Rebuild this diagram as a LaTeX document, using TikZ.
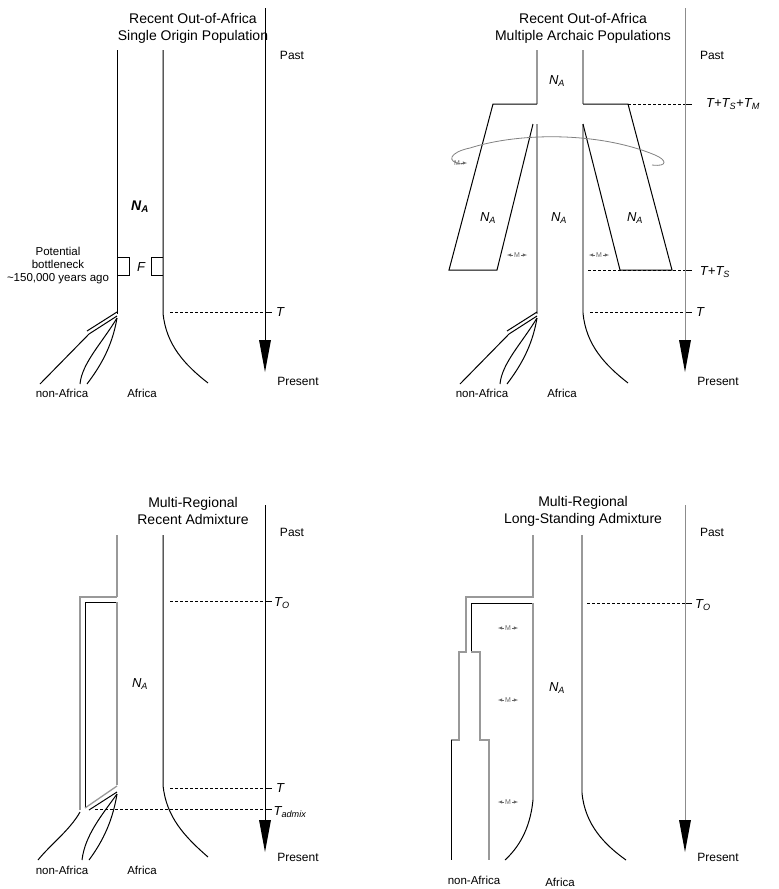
\documentclass[tikz,border=0pt]{standalone}
\usepackage{fontspec}
\setmainfont{Liberation Sans}
\newcommand{\sbs}[1]{\textsubscript{#1}}
\begin{document}
\begin{tikzpicture}[x=1pt,y=-1pt,
  ln/.style={line width=1pt,black},
  gl/.style={line width=1.3pt,black!40},
  dsh/.style={line width=0.8pt,dashed,dash pattern=on 3pt off 2pt},
  ttl/.style={font=\normalfont\fontsize{14}{17}\selectfont,align=center},
  sm/.style={font=\normalfont\fontsize{11.5}{13}\selectfont,align=center},
  lb/.style={font=\normalfont\fontsize{13}{15}\selectfont\itshape},
  mm/.style={font=\normalfont\fontsize{7}{8}\selectfont,text=black!60,inner sep=1pt},
  ma/.style={black!60,-latex,line width=0.5pt}]
\useasboundingbox (0,0) rectangle (779,889);
\newcommand{\taxis}[4]{% x, ytop, ybot, color
  \draw[line width=0.9pt,#4] (#1,#2) -- (#1,#3);
  \fill[black] (#1-6,#3) -- (#1+6,#3) -- (#1,#3+32) -- cycle;}
\newcommand{\lens}[3]{% xtrunk ytop color
  \draw[#3] (#1,#2) .. controls (#1-15,#2+25) and (#1-35,#2+45) .. (#1-37,#2+66);
  \draw[#3] (#1,#2) .. controls (#1-5,#2+30) and (#1-18,#2+50) .. (#1-30,#2+66);
  \draw[#3] (#1,#2-6) -- (#1-30,#2+13);
  \draw[#3] (#1,#2-2) -- (#1-28,#2+16) -- (#1-77,#2+66);}
\newcommand{\mig}[3]{% x y name
  \node[mm] (#3) at (#1,#2) {M};
  \draw[ma] (#3.west) -- ++(-6,0); \draw[ma] (#3.east) -- ++(6,0);}
% ---------- Panel 1
\node[ttl] (t1) at (193,28) {Recent Out-of-Africa\\Single Origin Population};
\draw[ln] (117,50) -- (117,314);
\draw[ln] (163,50) -- (163,313) .. controls (166,345) and (185,365) .. (208,383);
\lens{117}{318}{ln}
\draw[ln] (117,257) -- (129,257) -- (129,275) -- (117,275);
\draw[ln] (163,257) -- (151,257) -- (151,275) -- (163,275);
\node[lb] (f1) at (141,267) {F};
\node[font=\normalfont\fontsize{14}{16}\selectfont\bfseries\itshape] (na1) at (140,207) {N\sbs{A}};
\node[sm] (bn) at (58,266) {Potential\\bottleneck\\\textasciitilde150,000 years ago};
\taxis{265}{8}{340}{black}
\node[sm,font=\normalfont\fontsize{12}{14}\selectfont] (p1) at (292,55) {Past};
\node[sm,font=\normalfont\fontsize{12}{14}\selectfont] (pr1) at (298,381) {Present};
\draw[dsh] (170,312) -- (265,312); \draw (265,312) -- (272,312);
\node[lb] (T1) at (280,312) {T};
\node[sm] (na1l) at (62,393) {non-Africa};
\node[sm] (a1l) at (142,393) {Africa};
% ---------- Panel 2
\node[ttl] (t2) at (583,28) {Recent Out-of-Africa\\Multiple Archaic Populations};
\draw[gl] (537,50) -- (537,104); \draw[gl] (583,50) -- (583,104);
\draw[gl] (537,124) -- (537,314);
\draw[gl] (583,124) -- (583,313);
\draw[ln] (583,313) .. controls (586,345) and (605,365) .. (628,383);
\lens{537}{318}{ln}
\draw[ln] (537,104) -- (493,104) -- (449,270) -- (497,270) -- (533,124);
\draw[ln] (583,104) -- (628,104) -- (672,270) -- (620,270) -- (583,124);
\draw[dsh] (628,104) -- (685,104); \draw (685,104) -- (692,104);
\draw[dsh] (588,270) -- (685,270); \draw (685,270) -- (692,270);
\draw[dsh] (590,312) -- (685,312); \draw (685,312) -- (692,312);
\draw[black!50,line width=0.8pt] (462,164) .. controls (445,162) and (450,152) .. (470,148) .. controls (520,132) and (600,132) .. (655,155) .. controls (667,160) and (668,167) .. (652,165);
\node[mm] (m0) at (457,163) {M};
\draw[ma] (m0.east) -- ++(6,0);
\node[lb] (na2t) at (557,81) {N\sbs{A}};
\node[lb] (na2a) at (488,218) {N\sbs{A}};
\node[lb] (na2b) at (559,218) {N\sbs{A}};
\node[lb] (na2c) at (635,218) {N\sbs{A}};
\mig{517}{255}{m1}
\mig{599}{255}{m2}
\taxis{685}{8}{340}{black!45}
\node[lb] (T2a) at (733,104) {T+T\sbs{S}+T\sbs{M}};
\node[lb] (T2b) at (715,272) {T+T\sbs{S}};
\node[lb] (T2c) at (700,312) {T};
\node[sm,font=\normalfont\fontsize{12}{14}\selectfont] (p2) at (712,55) {Past};
\node[sm,font=\normalfont\fontsize{12}{14}\selectfont] (pr2) at (718,381) {Present};
\node[sm] (na2l) at (482,393) {non-Africa};
\node[sm] (a2l) at (562,393) {Africa};
% ---------- Panel 3
\node[ttl] (t3) at (193,511) {Multi-Regional\\Recent Admixture};
\draw[gl] (117,535) -- (117,597);
\draw[gl] (117,597) -- (80,597) -- (80,810);
\draw[ln] (117,602) -- (85,602) -- (85,808);
\draw[gl] (117,602) -- (117,785);
\draw[ln] (163,535) -- (163,785) .. controls (166,817) and (185,837) .. (208,857);
\draw[gl] (85,808) -- (117,786);
\draw[ln] (89,810) -- (117,792);
\draw[ln] (117,794) .. controls (102,815) and (85,835) .. (82,860);
\draw[ln] (117,794) .. controls (112,825) and (100,845) .. (89,860);
\draw[ln] (80,812) .. controls (70,830) and (50,845) .. (38,860);
\draw[dsh] (170,601) -- (265,601); \draw (265,601) -- (272,601);
\draw[dsh] (170,788) -- (265,788); \draw (265,788) -- (272,788);
\draw[dsh] (95,809) -- (265,809); \draw (265,809) -- (272,809);
\node[lb] (T3a) at (282,603) {T\sbs{O}};
\node[lb] (T3b) at (280,788) {T};
\node[lb] (T3c) at (290,812) {T\sbs{admix}};
\node[lb] (na3) at (140,684) {N\sbs{A}};
\taxis{265}{505}{820}{black}
\node[sm,font=\normalfont\fontsize{12}{14}\selectfont] (p3) at (292,532) {Past};
\node[sm,font=\normalfont\fontsize{12}{14}\selectfont] (pr3) at (298,857) {Present};
\node[sm] (na3l) at (62,870) {non-Africa};
\node[sm] (a3l) at (142,870) {Africa};
% ---------- Panel 4
\node[ttl] (t4) at (583,511) {Multi-Regional\\Long-Standing Admixture};
\draw[gl] (533,535) -- (533,597) -- (466,597) -- (466,652) -- (459,652) -- (459,740) -- (451,740);
\draw[ln] (533,603) -- (471,603) -- (471,652);
\draw[gl] (471,652) -- (480,652) -- (480,740) -- (489,740) -- (489,860);
\draw[ln] (451,740) -- (451,860);
\draw[gl] (533,603) -- (533,800);
\draw[ln] (533,800) .. controls (530,830) and (518,848) .. (505,860);
\draw[gl] (582,535) -- (582,793);
\draw[ln] (582,793) .. controls (585,825) and (605,845) .. (626,860);
\mig{508}{628}{ma}
\mig{508}{700}{mb}
\mig{508}{802}{mc}
\node[lb] (na4) at (557,688) {N\sbs{A}};
\draw[dsh] (587,603) -- (685,603); \draw (685,603) -- (692,603);
\node[lb] (T4a) at (703,605) {T\sbs{O}};
\taxis{685}{505}{820}{black!45}
\node[sm,font=\normalfont\fontsize{12}{14}\selectfont] (p4) at (712,532) {Past};
\node[sm,font=\normalfont\fontsize{12}{14}\selectfont] (pr4) at (718,857) {Present};
\node[sm] (na4l) at (474,880) {non-Africa};
\node[sm] (a4l) at (560,882) {Africa};
\end{tikzpicture}
\end{document}
